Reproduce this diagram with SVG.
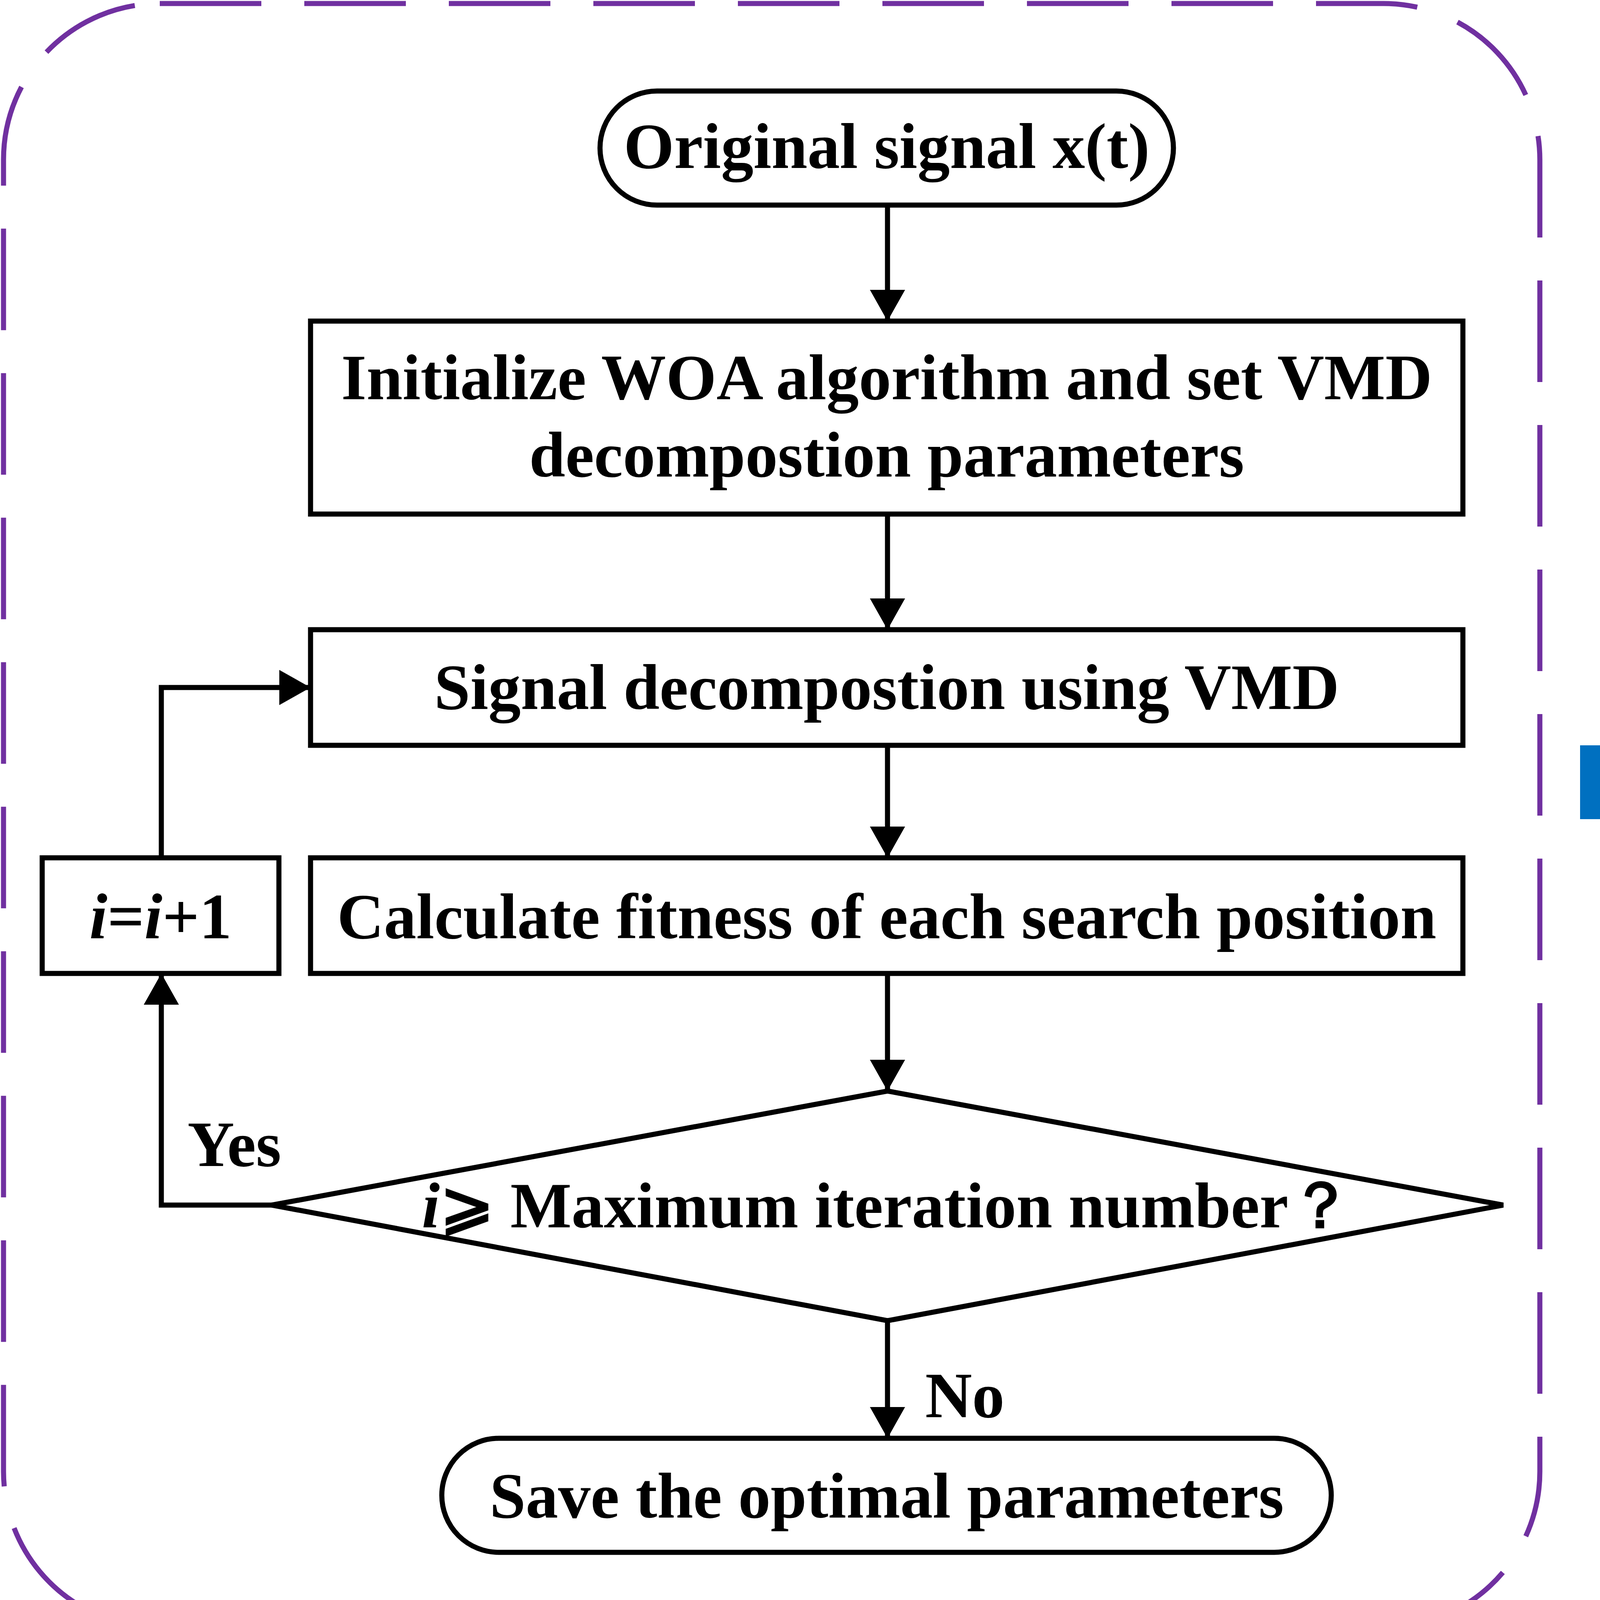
<svg xmlns="http://www.w3.org/2000/svg" width="7042" height="4177" viewBox="0 0 7042 4177">
<style>
.b{fill:#fff;stroke:#000;stroke-width:13}
.t{font-family:"Liberation Serif",serif;font-weight:bold;font-size:166px;text-anchor:middle;fill:#000}
.c{fill:none;stroke:#000;stroke-width:13}
.d{fill:none;stroke:#7030A0;stroke-width:13;stroke-dasharray:260 110}
</style>
<defs><marker id="a" markerUnits="userSpaceOnUse" markerWidth="80" markerHeight="120" refX="80" refY="60" orient="auto"><path d="M0,15 L80,60 L0,105 Z" fill="#000"/></marker></defs>
<rect class="d" x="9" y="9" width="3933" height="4158" rx="400"/>
<rect class="d" x="4634" y="9" width="2393" height="4158" rx="300"/>
<path d="M4045,1908 H4369 V1809 L4521,2003 L4369,2196 V2097 H4045 Z" fill="#0070C0"/>
<g id="connectors">
<path class="c" d="M2272,525 V822" marker-end="url(#a)"/>
<path class="c" d="M2272,1316 V1612" marker-end="url(#a)"/>
<path class="c" d="M2272,1908 V2196" marker-end="url(#a)"/>
<path class="c" d="M2272,2492 V2793" marker-end="url(#a)"/>
<path class="c" d="M2272,3381 V3682" marker-end="url(#a)"/>
<path class="c" d="M696,3085 H413 V2492" marker-end="url(#a)"/>
<path class="c" d="M413,2196 V1760 H795" marker-end="url(#a)"/>
<path class="c" d="M5837,943 V1248" marker-end="url(#a)"/>
<path class="c" d="M5837,1962 V2272" marker-end="url(#a)"/>
<path class="c" d="M5837,2681 V2972" marker-end="url(#a)"/>
<path class="c" d="M5837,3381 V3682" marker-end="url(#a)"/>
<text class="t" x="600" y="2985">Yes</text>
<text class="t" x="2470" y="3628">No</text>
</g>
<g id="n1"><rect class="b" x="1536" y="233" width="1468" height="292" rx="146"/><text class="t" x="2270" y="430">Original signal x(t)</text></g>
<g id="n2"><rect class="b" x="795" y="822" width="2950" height="494"/><text class="t" x="2270" y="1022">Initialize WOA algorithm and set VMD</text><text class="t" x="2270" y="1220">decompostion parameters</text></g>
<g id="n3"><rect class="b" x="795" y="1612" width="2950" height="296"/><text class="t" x="2270" y="1815">Signal decompostion using VMD</text></g>
<g id="n4"><rect class="b" x="795" y="2196" width="2950" height="296"/><text class="t" x="2270" y="2402">Calculate fitness of each search position</text></g>
<g id="n5"><rect class="b" x="108" y="2196" width="606" height="296"/><text class="t" x="411" y="2402"><tspan font-style="italic">i</tspan>=<tspan font-style="italic">i</tspan>+1</text></g>
<g id="n6"><path class="b" d="M696,3085 L2272,2793 L3848,3085 L2272,3381 Z"/><text class="t" x="2272" y="3142"><tspan font-style="italic">i</tspan>⩾ Maximum iteration number？</text></g>
<g id="n7"><rect class="b" x="1131" y="3682" width="2277" height="292" rx="146"/><text class="t" x="2270" y="3885">Save the optimal parameters</text></g>
<g id="r1"><rect class="b" x="4746" y="233" width="2187" height="710"/><text class="t" x="5840" y="443">Signal decomposition using</text><text class="t" x="5840" y="641">VMD with optimal</text><text class="t" x="5840" y="843">parameters</text></g>
<g id="r2"><rect class="b" x="4746" y="1248" width="2187" height="714"/><text class="t" x="5840" y="1462">Calculate Bhattacharyya</text><text class="t" x="5840" y="1660">distance between PDFs of</text><text class="t" x="5840" y="1857">each mode and input signal</text></g>
<g id="r3"><rect class="b" x="4746" y="2272" width="2187" height="409"/><text class="t" x="5840" y="2531">Select the relevant modes</text></g>
<g id="r4"><rect class="b" x="4746" y="2972" width="2187" height="409"/><text class="t" x="5840" y="3133">The relevant modes</text><text class="t" x="5840" y="3335">reconstruction</text></g>
<g id="r5"><rect class="b" x="5101" y="3682" width="1472" height="292" rx="146"/><text class="t" x="5840" y="3885">Denoising signal</text></g>
</svg>
